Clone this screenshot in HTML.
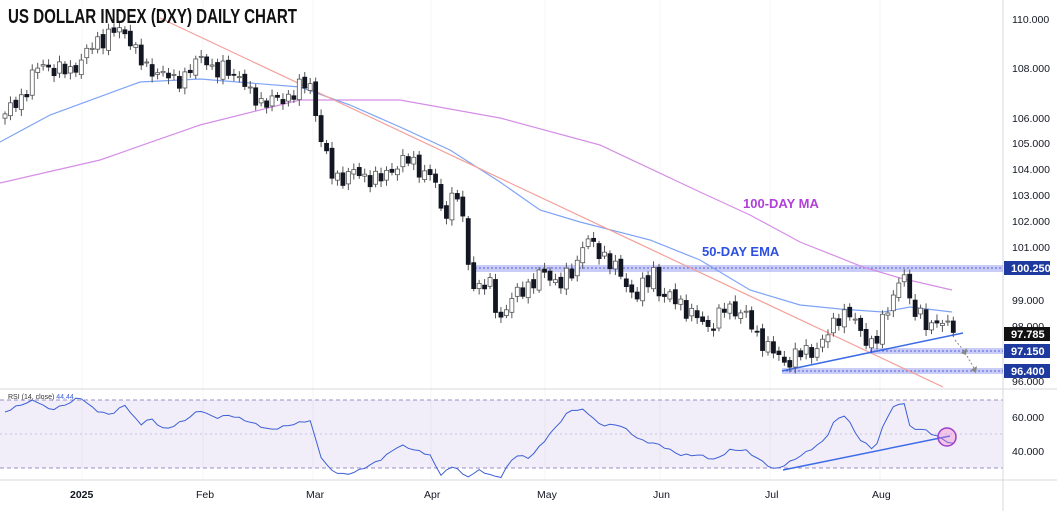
<!DOCTYPE html>
<html><head><meta charset="utf-8"><style>
body{margin:0;background:#fff;width:1057px;height:511px;overflow:hidden}
svg{display:block;font-family:"Liberation Sans",sans-serif}
</style></head><body>
<svg id="s" width="1057" height="511" viewBox="0 0 1057 511" xmlns="http://www.w3.org/2000/svg">
<rect width="1057" height="511" fill="#fff"/>
<g stroke="#f3f4f6" stroke-width="1">
<line x1="82" y1="0" x2="82" y2="480"/><line x1="203" y1="0" x2="203" y2="480"/><line x1="313" y1="0" x2="313" y2="480"/><line x1="431" y1="0" x2="431" y2="480"/><line x1="545" y1="0" x2="545" y2="480"/><line x1="660" y1="0" x2="660" y2="480"/><line x1="770" y1="0" x2="770" y2="480"/><line x1="880" y1="0" x2="880" y2="480"/>
</g>
<rect x="0" y="400" width="1003" height="68" fill="rgba(126,87,194,0.1)"/>
<line x1="0" y1="400" x2="1003" y2="400" stroke="#9a8fc4" stroke-dasharray="4,3"/>
<line x1="0" y1="468" x2="1003" y2="468" stroke="#9a8fc4" stroke-dasharray="4,3"/>
<line x1="0" y1="434" x2="1003" y2="434" stroke="#c9c3e0" stroke-dasharray="2,3"/>
<line x1="0" y1="389" x2="1057" y2="389" stroke="#d6d8de"/>
<line x1="0" y1="480" x2="1057" y2="480" stroke="#d6d8de"/>
<line x1="1003" y1="0" x2="1003" y2="511" stroke="#d6d8de"/>
<text x="8" y="399" font-size="7" fill="#333">RSI (14, close) <tspan fill="#3c5fd6">44.44</tspan></text>
<rect x="475" y="265" width="528" height="7" fill="rgba(100,110,230,0.35)"/>
<line x1="475" y1="268" x2="1003" y2="268" stroke="#5560d8" stroke-dasharray="2,2"/>
<rect x="870" y="348" width="133" height="6" fill="rgba(100,110,230,0.35)"/>
<line x1="870" y1="351" x2="1003" y2="351" stroke="#5560d8" stroke-dasharray="2,2"/>
<rect x="782" y="368" width="221" height="6" fill="rgba(100,110,230,0.35)"/>
<line x1="782" y1="371" x2="1003" y2="371" stroke="#5560d8" stroke-dasharray="2,2"/>
<polyline fill="none" stroke="#d58ee6" stroke-width="1.2" points="0,183 100,160 200,125 280,105 300,100 400,100 500,118 600,145 700,192 750,215 800,242 863,267 900,278 952,290"/>
<polyline fill="none" stroke="#7fa4f5" stroke-width="1.2" points="0,142 50,115 140,82 200,79 300,87 350,105 400,127 450,150 500,182 540,210 580,222 650,240 700,260 750,290 800,305 840,309 883,312 910,307 952,312"/>
<line x1="160" y1="18" x2="943" y2="387" stroke="#f4a09a" stroke-width="1.2"/>
<line x1="782" y1="371" x2="963" y2="333" stroke="#3d6be8" stroke-width="1.5"/>
<g id="c"></g>
<line x1="955" y1="340" x2="964" y2="351" stroke="#888" stroke-dasharray="2,2"/>
<polygon points="961,353 967,348 966,355" fill="#888"/>
<line x1="967" y1="356" x2="974" y2="368" stroke="#888" stroke-dasharray="2,2"/>
<polygon points="971,370 977,366 976,373" fill="#888"/>
<polyline id="rsi" fill="none" stroke="#3c5fd6" stroke-width="1"/>
<line x1="783" y1="470" x2="950" y2="436" stroke="#3d6be8" stroke-width="1.5"/>
<circle cx="947" cy="437" r="9" fill="rgba(240,120,200,0.35)" stroke="#9b3fc9" stroke-width="1.5"/>
<text x="8" y="23" font-size="20" font-weight="bold" fill="#111" textLength="289" lengthAdjust="spacingAndGlyphs">US DOLLAR INDEX (DXY) DAILY CHART</text>
<text x="743" y="208" font-size="13" font-weight="bold" fill="#b040d8">100-DAY MA</text>
<text x="702" y="256" font-size="13" font-weight="bold" fill="#2d50e0">50-DAY EMA</text>
<g font-size="10.5" fill="#131722">
<text x="1012" y="23">110.000</text><text x="1012" y="72">108.000</text><text x="1012" y="122">106.000</text><text x="1012" y="147">105.000</text><text x="1012" y="173">104.000</text><text x="1012" y="199">103.000</text><text x="1012" y="225">102.000</text><text x="1012" y="251">101.000</text><text x="1012" y="304">99.000</text><text x="1012" y="330">98.000</text><text x="1012" y="385">96.000</text>
<text x="1012" y="421">60.000</text><text x="1012" y="455">40.000</text>
<text x="70" y="498" font-weight="bold">2025</text><text x="196" y="498">Feb</text><text x="306" y="498">Mar</text><text x="424" y="498">Apr</text><text x="537" y="498">May</text><text x="653" y="498">Jun</text><text x="765" y="498">Jul</text><text x="872" y="498">Aug</text>
</g>
<rect x="1004" y="261" width="46" height="14" fill="#1e3a9e"/><text x="1011" y="272" font-size="11" fill="#fff" font-weight="bold">100.250</text>
<rect x="1004" y="327" width="46" height="14" fill="#111"/><text x="1011" y="338" font-size="11" fill="#fff" font-weight="bold">97.785</text>
<rect x="1004" y="344" width="46" height="14" fill="#1e3a9e"/><text x="1011" y="355" font-size="11" fill="#fff" font-weight="bold">97.150</text>
<rect x="1004" y="364" width="46" height="14" fill="#1e3a9e"/><text x="1011" y="375" font-size="11" fill="#fff" font-weight="bold">96.400</text>
</svg>
<script>
var P=[[5,106.3],[20,106.8],[35,108.0],[45,108.2],[70,107.9],[82,108.5],[95,109.0],[110,109.5],[120,109.5],[130,109.3],[145,108.0],[160,108.0],[175,107.5],[195,108.2],[205,108.6],[215,107.9],[225,108.0],[240,107.8],[250,107.0],[262,106.8],[280,106.8],[300,107.3],[310,107.5],[315,106.5],[320,105.5],[330,104.0],[340,103.8],[355,104.0],[380,103.7],[395,104.3],[410,104.5],[425,104.0],[435,103.7],[442,102.3],[452,103.0],[460,103.1],[466,100.9],[475,99.5],[490,99.6],[500,98.3],[520,99.5],[535,99.7],[545,100.2],[560,99.6],[575,100.3],[585,101.5],[595,101.0],[605,100.8],[620,100.0],[635,99.2],[650,99.8],[655,100.4],[660,99.2],[680,99.0],[690,98.5],[710,98.0],[715,98.2],[725,98.7],[735,98.7],[745,98.5],[755,97.7],[765,97.4],[775,96.9],[785,96.6],[795,96.9],[810,97.0],[825,97.5],[840,98.5],[848,98.6],[858,97.9],[865,97.6],[875,97.3],[885,98.4],[895,99.5],[905,100.1],[910,98.7],[920,98.7],[927,98.0],[935,97.9],[945,98.5],[950,97.9],[955,97.78]];
var R=[[5,412],[20,405],[35,400],[50,410],[65,405],[80,397],[95,410],[110,415],[125,405],[140,425],[150,418],[165,430],[185,420],[200,410],[215,418],[230,415],[250,422],[270,430],[290,425],[310,420],[320,455],[330,470],[345,475],[360,470],[380,460],[400,445],[415,450],[430,455],[440,475],[455,465],[465,478],[480,470],[490,475],[500,478],[515,455],[530,458],[545,440],[570,410],[585,410],[600,425],[620,425],[640,440],[660,445],[680,455],[700,455],[715,460],[730,450],[745,450],[760,460],[775,470],[790,462],[810,450],[825,440],[835,420],[845,415],[860,440],[875,450],[885,420],[895,405],[905,403],[910,428],[925,430],[940,438],[955,445]];
function itp(A,x){for(var i=1;i<A.length;i++){if(x<=A[i][0]){var a=A[i-1],b=A[i];return a[1]+(b[1]-a[1])*(x-a[0])/(b[0]-a[0]);}}return A[A.length-1][1];}
function y(p){return 19+(110-p)*25.65;}
var g=document.getElementById('c'),h='',prev=itp(P,0),pts=[];
for(var i=0;;i++){var x=5+i*5.45;if(x>956)break;
var c=itp(P,x)+0.25*Math.sin(i*2.7)+0.15*Math.sin(i*1.3);if(x>952)c=97.78;
var o=prev+0.1*Math.sin(i*3.9);var hi=Math.max(o,c)+0.1+0.15*Math.abs(Math.sin(i*1.7));var lo=Math.min(o,c)-0.1-0.15*Math.abs(Math.cos(i*2.1));
var up=c>=o,t=y(Math.max(o,c)),b=y(Math.min(o,c));if(b-t<1)b=t+1;
h+='<line x1="'+x+'" y1="'+y(hi)+'" x2="'+x+'" y2="'+y(lo)+'" stroke="#555" stroke-width="1"/>';
h+='<rect x="'+(x-2)+'" y="'+t+'" width="4" height="'+(b-t)+'" fill="'+(up?'#fff':'#131722')+'" stroke="'+(up?'#555':'#131722')+'" stroke-width="0.8"/>';
pts.push(x+','+(itp(R,x)+1*Math.sin(i*2.3)).toFixed(1));prev=c;}
g.innerHTML=h;document.getElementById('rsi').setAttribute('points',pts.join(' '));
</script>
</body></html>
